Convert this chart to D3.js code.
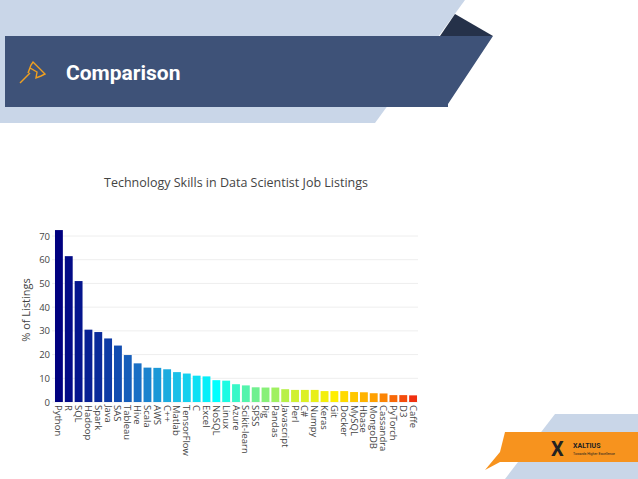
<!DOCTYPE html>
<html><head><meta charset="utf-8">
<script src="https://cdn.jsdelivr.net/npm/d3@7"></script>
<style>body{margin:0;background:#fff}svg{display:block}</style></head>
<body><svg id="c" width="638" height="479"></svg>
<script>
const categories = ["Python","R","SQL","Hadoop","Spark","Java","SAS","Tableau","Hive","Scala","AWS","C++","Matlab","TensorFlow","C","Excel","NoSQL","Linux","Azure","Scikit-learn","SPSS","Pig","Pandas","Javascript","Perl","C#","Numpy","Keras","Git","Docker","MySQL","Hbase","MongoDB","Cassandra","PyTorch","D3","Caffe"];
const values = [72.5,61.5,51,30.5,29.5,26.8,23.8,19.8,16.3,14.5,14.4,13.8,12.6,12,11.1,10.8,9.2,9,7.5,7,6.2,6.1,6.1,5.4,5.1,5.1,5.1,4.6,4.6,4.6,4.2,4.1,3.7,3.6,2.9,2.9,2.8];
const yTicks = [0,10,20,30,40,50,60,70];
const colorStops = ["#00007f","#0a2a9a","#1a6fc5","#1cc0e8","#00ffff","#70f090","#d0f030","#ffee00","#ffa000","#f03010"];

const svg = d3.select("#c");
// header decoration
svg.append("polygon").attr("points","0,0 465,0 375,123 0,123").attr("fill","#c9d6e8");
svg.append("polygon").attr("points","455,14 493,36 440,36").attr("fill","#253149");
svg.append("polygon").attr("points","5,36 493,36 448,104 448,107 5,107").attr("fill","#3e5278");
svg.append("text").attr("x",66).attr("y",80).attr("fill","#fff").attr("font-family","Roboto, sans-serif")
  .attr("font-weight","bold").attr("font-size",21).text("Comparison");
// pin icon
const pin = svg.append("g").attr("stroke","#f0a020").attr("fill","none").attr("stroke-width",1.4);
pin.append("path").attr("d","M33,62 L45,74 L41,76 L36,78 L37,72 L30,68 L28,73 L31,65 Z");
pin.append("line").attr("x1",30).attr("y1",73).attr("x2",20).attr("y2",83);
// footer decoration
svg.append("polygon").attr("points","555,414 638,414 638,479 505,479").attr("fill","#c9d6e8");
svg.append("polygon").attr("points","505,432 638,432 638,462 500,462 485,470 500,452").attr("fill","#f7931e");
svg.append("text").attr("x",573).attr("y",448).attr("font-family","Roboto, sans-serif").attr("font-weight","bold").attr("font-size",7).attr("fill","#222").text("XALTIUS");
svg.append("text").attr("x",573).attr("y",455).attr("font-family","Roboto, sans-serif").attr("font-size",3.5).attr("fill","#222").text("Towards Higher Excellence");
svg.append("text").attr("x",551).attr("y",456).attr("font-family","Roboto, sans-serif").attr("font-weight","bold").attr("font-size",20).attr("fill","#222").text("X");

// chart
const x = d3.scaleBand().domain(categories).range([54,418]).paddingInner(0.2).paddingOuter(0.1);
const y = d3.scaleLinear().domain([0,70]).range([402,236]);
const col = d3.scaleLinear().domain(colorStops.map((d,i)=>i/(colorStops.length-1))).range(colorStops).interpolate(d3.interpolateRgb);

svg.append("text").attr("x",236).attr("y",187).attr("text-anchor","middle").attr("font-family","Open Sans, sans-serif")
  .attr("font-size",12.5).attr("fill","#444").text("Technology Skills in Data Scientist Job Listings");

const g = svg.append("g");
g.selectAll("line.grid").data(yTicks).join("line").attr("x1",52).attr("x2",418)
  .attr("y1",d=>y(d)).attr("y2",d=>y(d)).attr("stroke","#eee");
g.selectAll("text.yt").data(yTicks).join("text").attr("x",50).attr("y",d=>y(d)+3.5).attr("text-anchor","end")
  .attr("font-family","Open Sans, sans-serif").attr("font-size",9.5).attr("fill","#444").text(d=>d);
g.selectAll("rect").data(values).join("rect").attr("x",(d,i)=>x(categories[i])).attr("width",x.bandwidth())
  .attr("y",d=>y(d)).attr("height",d=>y(0)-y(d)).attr("fill",(d,i)=>col(i/(values.length-1)));
g.selectAll("text.xt").data(categories).join("text")
  .attr("transform",d=>`translate(${x(d)+x.bandwidth()/2-3.5},405) rotate(90)`)
  .attr("font-family","Open Sans, sans-serif").attr("font-size",9.5).attr("fill","#444").text(d=>d);
svg.append("text").attr("transform","translate(30,310) rotate(-90)").attr("text-anchor","middle")
  .attr("font-family","Open Sans, sans-serif").attr("font-size",11).attr("fill","#444").text("% of Listings");
</script></body></html>
